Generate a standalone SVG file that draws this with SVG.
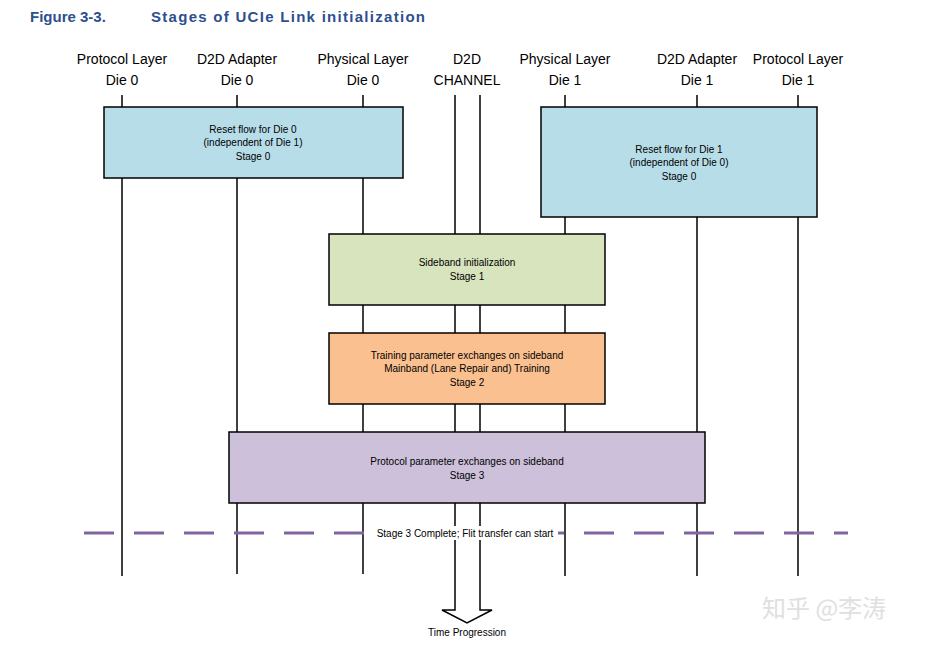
<svg xmlns="http://www.w3.org/2000/svg" width="934" height="649" viewBox="0 0 934 649">
<style>
.h{font-family:"Liberation Sans",Arial,sans-serif;font-size:14px;fill:#000;text-anchor:middle}
.t{font-family:"Liberation Sans",Arial,sans-serif;font-size:10px;fill:#000;text-anchor:middle}
.ln{stroke:#000;stroke-width:1.5;fill:none}
.bx{stroke:#000;stroke-width:1.5}
</style>
<rect width="934" height="649" fill="#fff"/>
<text x="30" y="22" font-family="Liberation Sans,Arial,sans-serif" font-size="15" font-weight="bold" fill="#2e4f8f">Figure 3-3.</text>
<text x="151" y="22" font-family="Liberation Sans,Arial,sans-serif" font-size="15" font-weight="bold" fill="#2e4f8f" textLength="274">Stages of UCIe Link initialization</text>
<g id="headers">
<text class="h" x="122" y="64">Protocol Layer</text><text class="h" x="122" y="85">Die 0</text>
<text class="h" x="237" y="64">D2D Adapter</text><text class="h" x="237" y="85">Die 0</text>
<text class="h" x="363" y="64">Physical Layer</text><text class="h" x="363" y="85">Die 0</text>
<text class="h" x="467" y="64">D2D</text><text class="h" x="467" y="85">CHANNEL</text>
<text class="h" x="565" y="64">Physical Layer</text><text class="h" x="565" y="85">Die 1</text>
<text class="h" x="697" y="64">D2D Adapter</text><text class="h" x="697" y="85">Die 1</text>
<text class="h" x="798" y="64">Protocol Layer</text><text class="h" x="798" y="85">Die 1</text>
</g>
<g id="connectors">
<line class="ln" x1="122" y1="95" x2="122" y2="576"/>
<line class="ln" x1="237" y1="95" x2="237" y2="574"/>
<line class="ln" x1="363" y1="95" x2="363" y2="574"/>
<line class="ln" x1="565" y1="95" x2="565" y2="576"/>
<line class="ln" x1="697" y1="95" x2="697" y2="576"/>
<line class="ln" x1="798" y1="95" x2="798" y2="576"/>
<polyline class="ln" points="455,95 455,610 442,610 467,623 492,610 480,610 480,95" fill="#fff"/>
</g>
<g id="reset0"><rect class="bx" x="104" y="107" width="299" height="71" fill="#b7dde8"/>
<text class="t" x="253" y="133">Reset flow for Die 0</text><text class="t" x="253" y="146">(independent of Die 1)</text><text class="t" x="253" y="160">Stage 0</text></g>
<g id="reset1"><rect class="bx" x="541" y="107" width="276" height="110" fill="#b7dde8"/>
<text class="t" x="679" y="153">Reset flow for Die 1</text><text class="t" x="679" y="166">(independent of Die 0)</text><text class="t" x="679" y="180">Stage 0</text></g>
<g id="sideband"><rect class="bx" x="329" y="234" width="276" height="71" fill="#d7e4bd"/>
<text class="t" x="467" y="266">Sideband initialization</text><text class="t" x="467" y="280">Stage 1</text></g>
<g id="training"><rect class="bx" x="329" y="333" width="276" height="71" fill="#fac090"/>
<text class="t" x="467" y="359">Training parameter exchanges on sideband</text><text class="t" x="467" y="372">Mainband (Lane Repair and) Training</text><text class="t" x="467" y="386">Stage 2</text></g>
<g id="protocol"><rect class="bx" x="229" y="432" width="476" height="71" fill="#ccc0da"/>
<text class="t" x="467" y="465">Protocol parameter exchanges on sideband</text><text class="t" x="467" y="479">Stage 3</text></g>
<g id="complete">
<line x1="84" y1="533" x2="848" y2="533" stroke="#8064a2" stroke-width="3" stroke-dasharray="30,20"/>
<rect x="370" y="526" width="188" height="14" fill="#fff"/>
<text class="t" x="465" y="537">Stage 3 Complete; Flit transfer can start</text>
</g>
<text class="t" x="467" y="636">Time Progression</text>
<text x="762" y="617" font-family="Noto Sans CJK SC,sans-serif" font-size="24" fill="#e0e0e0">知乎 @李涛</text>
</svg>
